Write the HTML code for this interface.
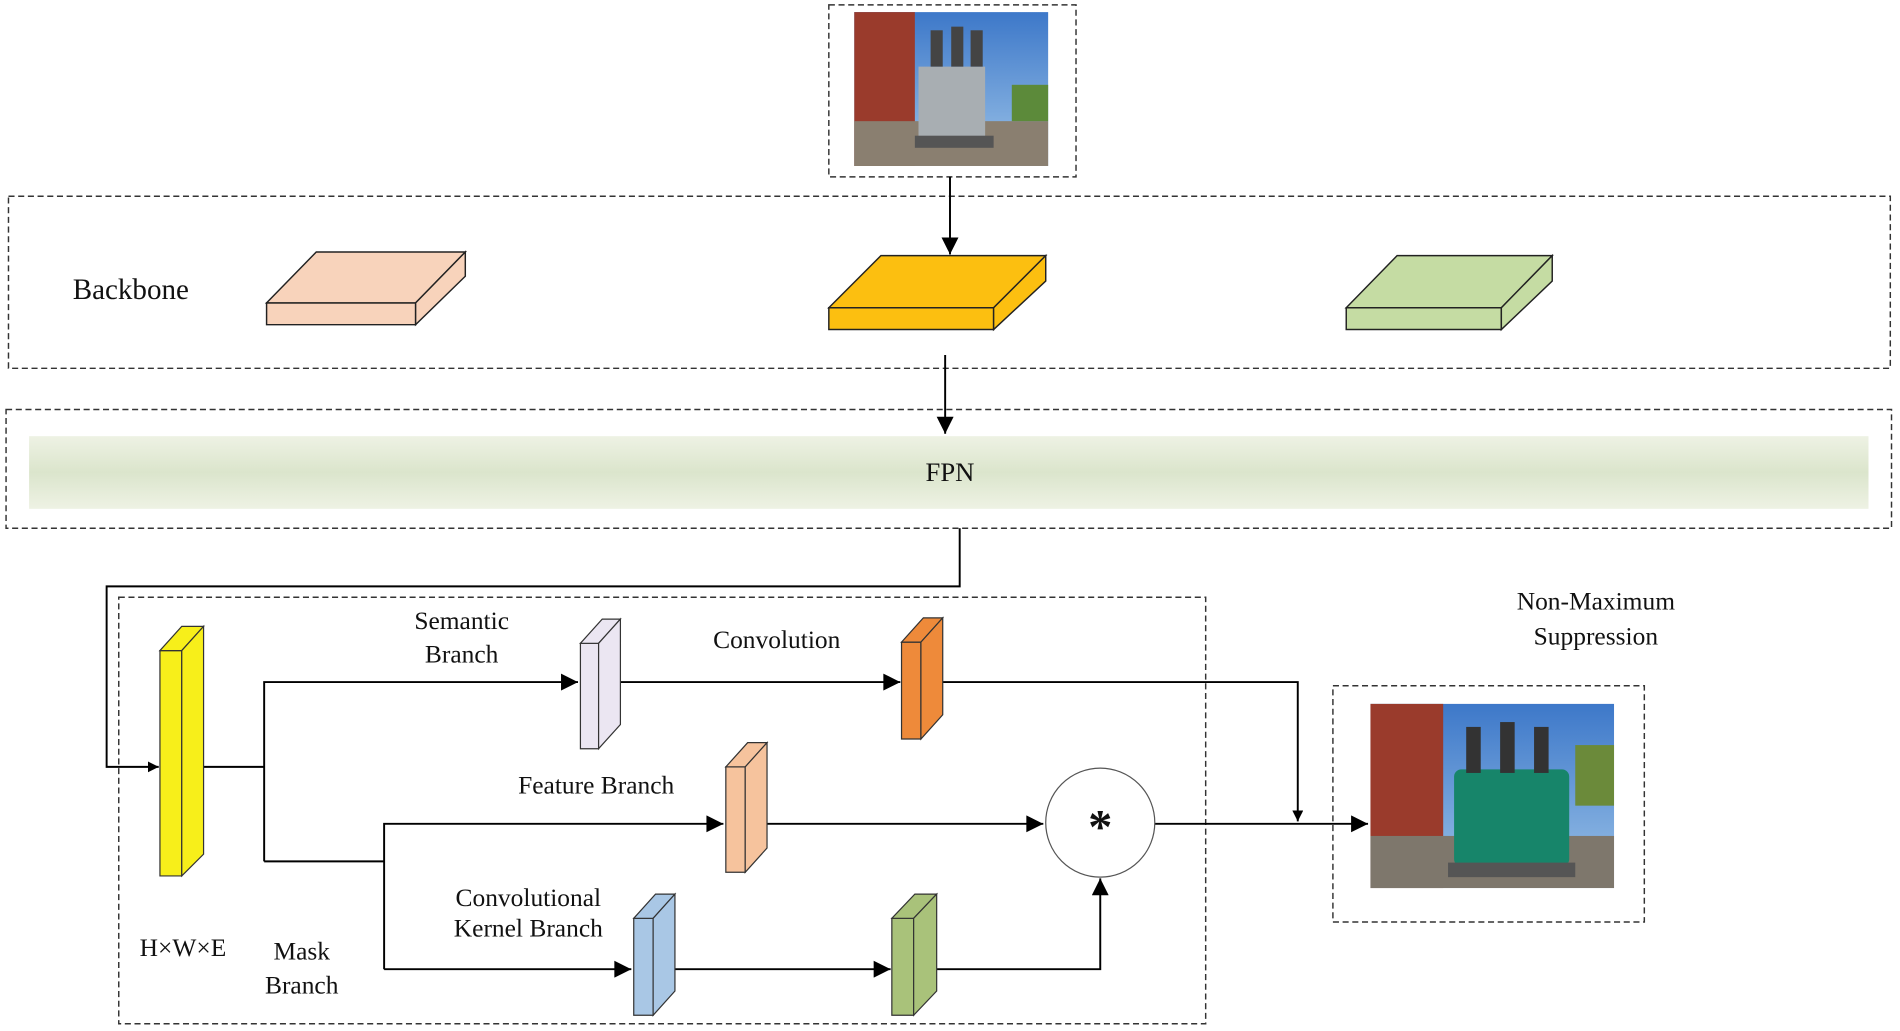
<!DOCTYPE html>
<html><head><meta charset="utf-8"><style>
html,body{margin:0;padding:0;background:#fff}
svg{display:block}
text{font-family:"Liberation Serif",serif;fill:#111}
</style></head><body>
<svg width="1900" height="1031" viewBox="0 0 1568 851" preserveAspectRatio="none" xmlns="http://www.w3.org/2000/svg">
<defs>
<marker id="a" viewBox="0 0 10 10" refX="10" refY="5" markerWidth="9" markerHeight="9" markerUnits="userSpaceOnUse" orient="auto"><path d="M0,0 L10,5 L0,10 z" fill="#000"/></marker>
<marker id="b" viewBox="0 0 10 10" refX="10" refY="5" markerWidth="16" markerHeight="14" markerUnits="userSpaceOnUse" orient="auto"><path d="M0,0 L10,5 L0,10 z" fill="#000"/></marker>
<linearGradient id="fpn" x1="0" y1="0" x2="0" y2="1"><stop offset="0" stop-color="#eef2e4"/><stop offset="0.5" stop-color="#dbe5cc"/><stop offset="1" stop-color="#eef2e4"/></linearGradient>
<linearGradient id="sky" x1="0" y1="0" x2="0" y2="1"><stop offset="0" stop-color="#3d78c9"/><stop offset="1" stop-color="#9cc3e8"/></linearGradient>
</defs>
<g fill="none" stroke="#333" stroke-width="1.2" stroke-dasharray="5,3">
<rect x="684" y="4" width="204" height="142"/>
<rect x="7" y="162" width="1553" height="142"/>
<rect x="5" y="338" width="1556" height="98"/>
<rect x="98" y="493" width="897" height="352"/>
<rect x="1100" y="566" width="257" height="195"/>
</g>
<g>
<rect x="705" y="10" width="160" height="127" fill="url(#sky)"/>
<rect x="705" y="10" width="50" height="127" fill="#9a3b2c"/>
<rect x="705" y="100" width="160" height="37" fill="#8a7f70"/>
<rect x="835" y="70" width="30" height="30" fill="#5c8a3a"/>
<rect x="758" y="55" width="55" height="60" fill="#a8aeb2"/>
<rect x="768" y="25" width="10" height="30" fill="#444"/><rect x="785" y="22" width="10" height="33" fill="#444"/><rect x="801" y="25" width="10" height="30" fill="#444"/>
<rect x="755" y="112" width="65" height="10" fill="#555"/>
</g>
<g>
<rect x="1131" y="581" width="201" height="152" fill="url(#sky)"/>
<rect x="1131" y="581" width="60" height="152" fill="#9a3b2c"/>
<rect x="1300" y="615" width="32" height="50" fill="#6b8a3a"/>
<rect x="1131" y="690" width="201" height="43" fill="#7e776c"/>
<rect x="1200" y="635" width="95" height="80" rx="6" fill="#17856a"/>
<rect x="1210" y="600" width="12" height="38" fill="#333"/><rect x="1238" y="596" width="12" height="42" fill="#333"/><rect x="1266" y="600" width="12" height="38" fill="#333"/>
<rect x="1195" y="712" width="105" height="12" fill="#555"/>
</g>
<g stroke="#222" stroke-width="1.2">
<path d="M220,250 L343,250 L343,268 L220,268 z" fill="#f8d3bb"/>
<path d="M220,250 L261,208 L384,208 L343,250 z" fill="#f8d3bb"/>
<path d="M343,250 L384,208 L384,228 L343,268 z" fill="#f8d3bb"/>
<path d="M684,254 L820,254 L820,272 L684,272 z" fill="#fcbf10"/>
<path d="M684,254 L727,211 L863,211 L820,254 z" fill="#fcbf10"/>
<path d="M820,254 L863,211 L863,232 L820,272 z" fill="#fcbf10"/>
<path d="M1111,254 L1239,254 L1239,272 L1111,272 z" fill="#c5dca3"/>
<path d="M1111,254 L1153,211 L1281,211 L1239,254 z" fill="#c5dca3"/>
<path d="M1239,254 L1281,211 L1281,232 L1239,272 z" fill="#c5dca3"/>
</g>
<text x="60" y="247" font-size="24">Backbone</text>
<rect x="24" y="360" width="1518" height="60" fill="url(#fpn)"/>
<text x="784" y="397" font-size="22" text-anchor="middle">FPN</text>
<g stroke="#000" stroke-width="1.6" fill="none">
<line x1="784" y1="146" x2="784" y2="210" marker-end="url(#b)"/>
<line x1="780" y1="293" x2="780" y2="358" marker-end="url(#b)"/>
<path d="M792,436 L792,484 L88,484 L88,633 L131,633" marker-end="url(#a)"/>
<path d="M155,633 L218,633"/>
<path d="M218,711 L218,563 L477,563" marker-end="url(#b)"/>
<path d="M218,711 L317,711"/>
<path d="M317,800 L317,680 L597,680" marker-end="url(#b)"/>
<path d="M317,800 L521,800" marker-end="url(#b)"/>
<path d="M512,563 L743,563" marker-end="url(#b)"/>
<path d="M778,563 L1071,563 L1071,678" marker-end="url(#a)"/>
<path d="M633,680 L861,680" marker-end="url(#b)"/>
<path d="M557,800 L735,800" marker-end="url(#b)"/>
<path d="M773,800 L908,800 L908,725" marker-end="url(#b)"/>
<path d="M953,680 L1129,680" marker-end="url(#b)"/>
</g>
<g stroke="#333" stroke-width="1">
<path d="M132,537 L150,537 L150,723 L132,723 z" fill="#f7ef1a"/>
<path d="M132,537 L150,517 L168,517 L150,537 z" fill="#f7ef1a"/>
<path d="M150,537 L168,517 L168,705 L150,723 z" fill="#f7ef1a"/>
<path d="M479,531 L494,531 L494,618 L479,618 z" fill="#ebe6f2"/>
<path d="M479,531 L497,511 L512,511 L494,531 z" fill="#ebe6f2"/>
<path d="M494,531 L512,511 L512,598 L494,618 z" fill="#ebe6f2"/>
<path d="M744,530 L760,530 L760,610 L744,610 z" fill="#ee8a3a"/>
<path d="M744,530 L762,510 L778,510 L760,530 z" fill="#ee8a3a"/>
<path d="M760,530 L778,510 L778,590 L760,610 z" fill="#ee8a3a"/>
<path d="M599,633 L615,633 L615,720 L599,720 z" fill="#f6c39d"/>
<path d="M599,633 L617,613 L633,613 L615,633 z" fill="#f6c39d"/>
<path d="M615,633 L633,613 L633,700 L615,720 z" fill="#f6c39d"/>
<path d="M523,758 L539,758 L539,838 L523,838 z" fill="#a9c7e5"/>
<path d="M523,758 L541,738 L557,738 L539,758 z" fill="#a9c7e5"/>
<path d="M539,758 L557,738 L557,818 L539,838 z" fill="#a9c7e5"/>
<path d="M736,758 L754,758 L754,838 L736,838 z" fill="#a9c27a"/>
<path d="M736,758 L755,738 L773,738 L754,758 z" fill="#a9c27a"/>
<path d="M754,758 L773,738 L773,818 L754,838 z" fill="#a9c27a"/>
</g>
<circle cx="908" cy="679" r="45" fill="#fff" stroke="#555" stroke-width="1"/>
<text x="908" y="696" font-size="40" font-weight="bold" text-anchor="middle">*</text>
<g font-size="21" text-anchor="middle">
<text x="381" y="519">Semantic</text><text x="381" y="547">Branch</text>
<text x="641" y="535">Convolution</text>
<text x="492" y="655">Feature Branch</text>
<text x="436" y="748">Convolutional</text><text x="436" y="773">Kernel Branch</text>
<text x="151" y="789">H×W×E</text>
<text x="249" y="792">Mask</text><text x="249" y="820">Branch</text>
<text x="1317" y="503">Non-Maximum</text><text x="1317" y="532">Suppression</text>
</g>
</svg>
</body></html>
